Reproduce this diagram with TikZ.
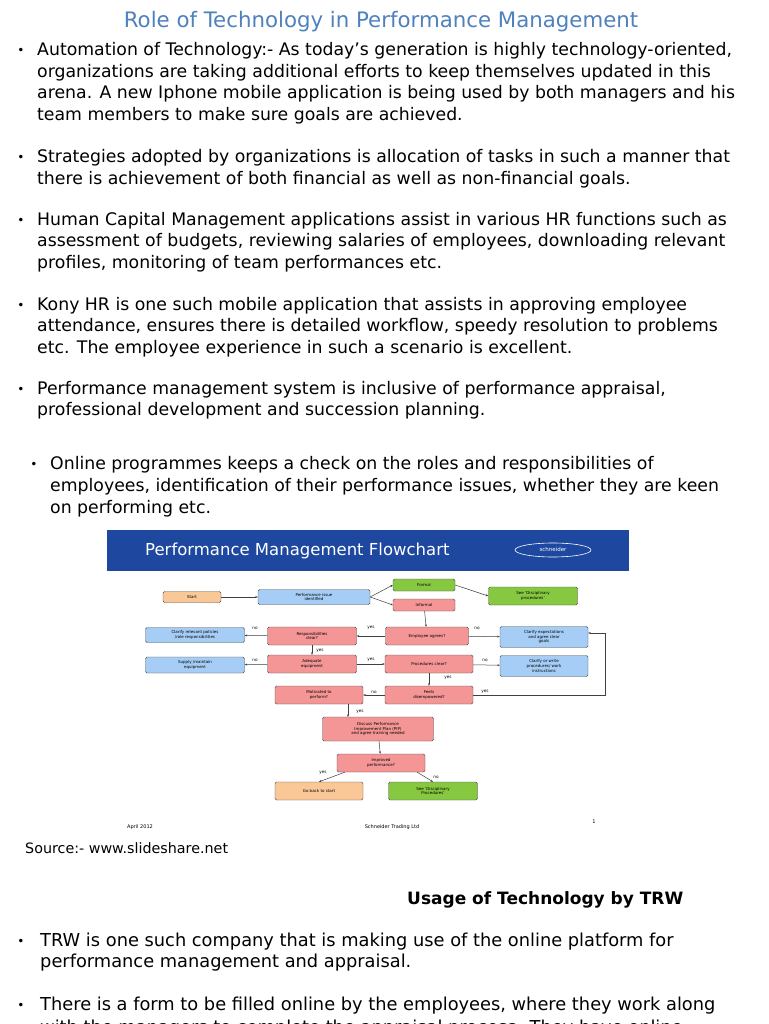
\documentclass[tikz,border=0pt]{standalone}
\usepackage{fontspec}
\setmainfont{DejaVu Sans}
\usetikzlibrary{arrows.meta}
\definecolor{ttl}{RGB}{79,129,189}
\definecolor{hdr}{RGB}{30,72,160}
\definecolor{cor}{RGB}{250,200,150}
\definecolor{cbl}{RGB}{165,205,245}
\definecolor{cgr}{RGB}{135,200,65}
\definecolor{crd}{RGB}{245,150,150}
\tikzset{
 ln/.style={anchor=west,inner sep=0pt,font=\fontsize{17.3}{19}\selectfont},
 ln2/.style={anchor=west,inner sep=0pt,font=\fontsize{17.8}{19}\selectfont},
 bl/.style={anchor=center,inner sep=0pt,font=\fontsize{12}{14}\selectfont},
 fb/.style={draw=black!70,rounded corners=1.5pt,minimum height=#1,inner sep=0.5pt,align=center,font=\fontsize{4}{4.6}\selectfont,line width=0.4pt},
 fb/.default=12pt,
 fa/.style={-{Stealth[length=2.5pt,width=2pt]},line width=0.5pt,black!75},
 lb/.style={font=\fontsize{4.2}{5}\selectfont,inner sep=0pt}
}
\begin{document}
\begin{tikzpicture}[x=1pt,y=-1pt]
\useasboundingbox (0,0) rectangle (768,1024);
\fill[white] (0,0) rectangle (768,1024);
\node[inner sep=0pt,font=\fontsize{21.3}{24}\selectfont,text=ttl] (title) at (381,22) {Role of Technology in Performance Management};
% bullets
\foreach \y in {51,158,221,306,390,942,1006} {\node[bl] at (21,\y) {•};}
\node[bl] at (34,465) {•};
\node[ln] (a1) at (37,51) {Automation of Technology:- As today’s generation is highly technology-oriented,};
\node[ln] (a2) at (37,73) {organizations are taking additional efforts to keep themselves updated in this};
\node[ln] (a3) at (37,94) {arena. A new Iphone mobile application is being used by both managers and his};
\node[ln] (a4) at (37,116) {team members to make sure goals are achieved.};
\node[ln] (b1) at (37,158) {Strategies adopted by organizations is allocation of tasks in such a manner that};
\node[ln] (b2) at (37,180) {there is achievement of both financial as well as non-financial goals.};
\node[ln] (c1) at (37,221) {Human Capital Management applications assist in various HR functions such as};
\node[ln] (c2) at (37,242) {assessment of budgets, reviewing salaries of employees, downloading relevant};
\node[ln] (c3) at (37,264) {profiles, monitoring of team performances etc.};
\node[ln] (d1) at (37,306) {Kony HR is one such mobile application that assists in approving employee};
\node[ln] (d2) at (37,327) {attendance, ensures there is detailed workflow, speedy resolution to problems};
\node[ln] (d3) at (37,349) {etc. The employee experience in such a scenario is excellent.};
\node[ln] (e1) at (37,390) {Performance management system is inclusive of performance appraisal,};
\node[ln] (e2) at (37,411) {professional development and succession planning.};
\node[ln] (f1) at (50,465) {Online programmes keeps a check on the roles and responsibilities of};
\node[ln] (f2) at (50,487) {employees, identification of their performance issues, whether they are keen};
\node[ln] (f3) at (50,509) {on performing etc.};
% flowchart image
\fill[white] (107,530) rectangle (629,832);
\fill[hdr] (107,530) rectangle (629,571);
\node[inner sep=0pt,text=white,font=\fontsize{16.5}{18}\selectfont,anchor=west] (fct) at (145,551) {Performance Management Flowchart};
\draw[white,line width=0.6pt] (553,550) ellipse (38 and 7);
\node[text=white,font=\fontsize{5.5}{6}\selectfont,inner sep=0pt] (logo) at (553,549) {schneider};
\node[fb,fill=cor,minimum width=58pt,minimum height=11pt] (st) at (192,597) {Start};
\node[fb,fill=cbl,minimum width=112pt,minimum height=15pt] (pi) at (314,597) {Performance issue\\identified};
\node[fb,fill=cgr,minimum width=62pt] (fo) at (424,585) {Formal};
\node[fb,fill=crd,minimum width=62pt] (inf) at (424,605) {Informal};
\node[fb,fill=cgr,minimum width=89pt,minimum height=18pt] (sd1) at (533,596) {See ‘Disciplinary\\procedures’};
\node[fb,fill=cbl,minimum width=99pt,minimum height=15pt] (cp) at (195,635) {Clarify relevant policies\\/role responsibilities};
\node[fb,fill=crd,minimum width=89pt,minimum height=18pt] (rc) at (312,636) {Responsibilities\\clear?};
\node[fb,fill=crd,minimum width=83pt,minimum height=18pt] (ea) at (427,636) {Employee agrees?};
\node[fb,fill=cbl,minimum width=88pt,minimum height=21pt] (ce) at (544,637) {Clarify expectations\\and agree clear\\goals};
\node[fb,fill=cbl,minimum width=99pt,minimum height=16pt] (sm) at (195,665) {Supply /maintain\\equipment};
\node[fb,fill=crd,minimum width=89pt,minimum height=18pt] (ae) at (312,664) {Adequate\\equipment};
\node[fb,fill=crd,minimum width=88pt,minimum height=18pt] (pc) at (429,664) {Procedures clear?};
\node[fb,fill=cbl,minimum width=88pt,minimum height=21pt] (cw) at (544,666) {Clarify or write\\procedures/ work\\instructions};
\node[fb,fill=crd,minimum width=88pt,minimum height=18pt] (mp) at (319,695) {Motivated to\\perform?};
\node[fb,fill=crd,minimum width=88pt,minimum height=18pt] (fd) at (429,695) {Feels\\disempowered?};
\node[fb,fill=crd,minimum width=111pt,minimum height=24pt] (pip) at (378,729) {Discuss Performance\\Improvement Plan (PIP)\\and agree training needed};
\node[fb,fill=crd,minimum width=88pt,minimum height=18pt] (ip) at (381,763) {Improved\\performance?};
\node[fb,fill=cor,minimum width=88pt,minimum height=18pt] (gb) at (319,791) {Go back to start};
\node[fb,fill=cgr,minimum width=89pt,minimum height=18pt] (sd2) at (433,791) {See ‘Disciplinary\\Procedures’};
\draw[fa] (st) -- (pi);
\draw[fa] (pi.east) -- (fo.west);
\draw[fa] (pi.east) -- (inf.west);
\draw[fa] (fo.east) -- (sd1.west);
\draw[fa] (inf) -- (ea);
\draw[fa] (ea) -- (rc);
\draw[fa] (ea) -- (ce);
\draw[fa] (rc) -- (cp);
\draw[fa] (rc) -- (ae);
\draw[fa] (ae) -- (sm);
\draw[fa] (ae) -- (pc);
\draw[fa] (pc) -- (cw);
\draw[fa] (pc) -- (fd);
\draw[fa] (fd) -- (mp);
\coordinate (lp1) at (605,695);
\coordinate (lp2) at (605,633);
\draw[fa] (fd.east) -- (lp1) -- (lp2) -- (ce.east |- lp2);
\draw[fa] (mp.south -| 348,0) -- (348,717);
\draw[fa] (pip) -- (ip);
\draw[fa] (ip.south west) ++(8,0) -- (gb.north);
\draw[fa] (ip.south east) ++(-8,0) -- (sd2.north);
\node[lb] at (255,628) {no};
\node[lb] at (371,628) {yes};
\node[lb] at (477,628) {no};
\node[lb] at (320,651) {yes};
\node[lb] at (255,660) {no};
\node[lb] at (371,660) {yes};
\node[lb] at (485,660) {no};
\node[lb] at (448,678) {yes};
\node[lb] at (374,692) {no};
\node[lb] at (485,692) {yes};
\node[lb] at (360,712) {yes};
\node[lb] at (323,773) {yes};
\node[lb] at (436,777) {no};
\node[lb,font=\fontsize{5}{6}\selectfont] (apr) at (140,827) {April 2012};
\node[lb,font=\fontsize{5}{6}\selectfont] (stl) at (392,827) {Schneider Trading Ltd};
\node[lb,font=\fontsize{5}{6}\selectfont] (pg) at (594,822) {1};
% bottom text
\node[inner sep=0pt,anchor=west,font=\fontsize{14.3}{16}\selectfont] (src) at (25,848) {Source:- www.slideshare.net};
\node[inner sep=0pt,anchor=west,font=\bfseries\fontsize{17}{18}\selectfont] (uh) at (407,900) {Usage of Technology by TRW};
\node[ln2] (g1) at (40,942) {TRW is one such company that is making use of the online platform for};
\node[ln2] (g2) at (40,963) {performance management and appraisal.};
\node[ln2] (h1) at (40,1006) { There is a form to be filled online by the employees, where they work along};
\node[ln2] (h2) at (40,1029) {with the managers to complete the appraisal process. They have online};
\end{tikzpicture}
\end{document}
